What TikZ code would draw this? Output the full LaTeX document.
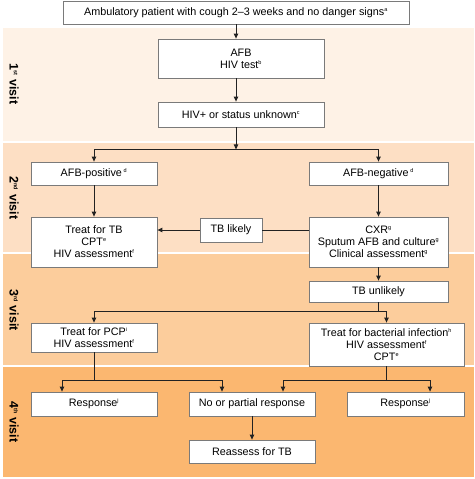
\documentclass[tikz,border=0pt]{standalone}
\usepackage{fontspec}
\setmainfont{Liberation Sans}
\usetikzlibrary{arrows.meta,calc}
\definecolor{bandA}{HTML}{FEF2E6}
\definecolor{bandB}{HTML}{FDDFC4}
\definecolor{bandC}{HTML}{FCCD9C}
\definecolor{bandD}{HTML}{FBB770}
\definecolor{boxline}{HTML}{7A7A7A}
\definecolor{arrcol}{HTML}{222222}
\newcommand\sups[1]{\textsuperscript{\fontsize{5.5}{5.5}\selectfont #1}}
\begin{document}
\begin{tikzpicture}[x=1pt,y=-1pt,
  box/.style={draw=boxline,fill=white,line width=0.8pt,align=center,inner sep=1pt,
    font=\fontsize{10.8}{12}\selectfont},
  arr/.style={draw=arrcol,line width=0.9pt,-{Triangle[length=5pt,width=4.5pt]}},
  ln/.style={draw=arrcol,line width=0.9pt},
  visit/.style={rotate=-90,font=\bfseries\fontsize{12.5}{14}\selectfont,inner sep=0pt}]
\useasboundingbox (0,0) rectangle (474,479);
% bands
\fill[white] (0,0) rectangle (474,479);
\fill[bandA] (3,28) rectangle (474,141);
\fill[bandB] (3,143) rectangle (474,252);
\fill[bandC] (3,254) rectangle (474,365);
\fill[bandD] (3,367) rectangle (474,477);
% visit labels
\node[visit] (v1) at (14,84) {1\sups{st} visit};
\node[visit] (v2) at (14,198) {2\sups{nd} visit};
\node[visit] (v3) at (14,310) {3\sups{rd} visit};
\node[visit] (v4) at (14,422) {4\sups{th} visit};
% boxes
\node[box,minimum width=346pt,minimum height=23pt] (top) at (236,12.5) {Ambulatory patient with cough 2--3 weeks and no danger signs\sups{a}};
\node[box,minimum width=166pt,minimum height=39pt] (afb) at (241,58.5) {AFB\\HIV test\sups{b}};
\node[box,minimum width=166pt,minimum height=25pt] (hiv) at (241,114.5) {HIV+ or status unknown\sups{c}};
\node[box,minimum width=126pt,minimum height=23pt] (afbpos) at (94,173.5) {AFB-positive\,\sups{d}};
\node[box,minimum width=139pt,minimum height=23pt] (afbneg) at (378.5,173.5) {AFB-negative\,\sups{d}};
\node[box,minimum width=126pt,minimum height=50pt] (treattb) at (94,242) {Treat for TB\\CPT\sups{e}\\HIV assessment\sups{f}};
\node[box,minimum width=62pt,minimum height=24pt] (tblikely) at (231,230) {TB likely};
\node[box,minimum width=139pt,minimum height=50pt] (cxr) at (378.5,242) {CXR\sups{g}\\Sputum AFB and culture\sups{g}\\Clinical assessment\sups{g}};
\node[box,minimum width=139pt,minimum height=21pt] (tbunl) at (378.5,291.5) {TB unlikely};
\node[box,minimum width=126pt,minimum height=29pt] (pcp) at (94,337.5) {Treat for PCP\sups{i}\\HIV assessment\sups{f}};
\node[box,minimum width=155pt,minimum height=43pt] (bact) at (386.5,344.5) {Treat for bacterial infection\sups{h}\\HIV assessment\sups{f}\\CPT\sups{e}};
\node[box,minimum width=126pt,minimum height=24pt] (resp1) at (94,404) {Response\sups{j}};
\node[box,minimum width=126pt,minimum height=24pt] (nopart) at (252,404) {No or partial response};
\node[box,minimum width=117pt,minimum height=24pt] (resp2) at (405.5,404) {Response\sups{j}};
\node[box,minimum width=126pt,minimum height=23pt] (reass) at (252,451.5) {Reassess for TB};
% connectors
\draw[arr] (top.south) -- (top.south |- afb.north);
\draw[arr] (top.south |- afb.south) -- (top.south |- hiv.north);
\coordinate (j1) at ($(top.south |- hiv.south)+(0,22)$);
\draw[arr] (top.south |- hiv.south) -- (j1);
\draw[arr] (j1) -| (afbpos.north);
\draw[arr] (j1) -| (afbneg.north);
\draw[arr] (afbpos.south) -- (treattb.north);
\draw[arr] (afbneg.south) -- (cxr.north);
\draw[ln] (cxr.west |- tblikely.east) -- (tblikely.east);
\draw[arr] (tblikely.west) -- (treattb.east |- tblikely.west);
\draw[arr] (cxr.south) -- (tbunl.north);
\coordinate (j2) at ($(tbunl.south)+(0,9)$);
\draw[ln] (tbunl.south) -- (j2);
\draw[arr] (j2) -| (pcp.north);
\draw[arr] (j2) -| (bact.north);
\coordinate (j3) at ($(pcp.south)+(0,28)$);
\draw[ln] (pcp.south) -- (j3);
\draw[arr] (j3) -| ([xshift=-32pt]resp1.north);
\draw[arr] (j3) -| ([xshift=-30pt]nopart.north);
\coordinate (j4) at ($(bact.south)+(0,14)$);
\draw[ln] (bact.south) -- (j4);
\draw[arr] (j4) -| ([xshift=31pt]nopart.north);
\draw[arr] (j4) -| ([xshift=24.5pt]resp2.north);
\draw[arr] (nopart.south) -- (reass.north);
\end{tikzpicture}
\end{document}
